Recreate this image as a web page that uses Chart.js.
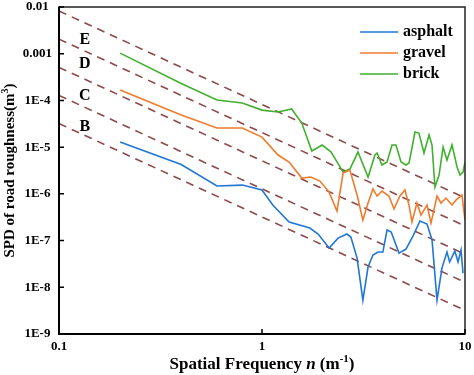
<!DOCTYPE html>
<html>
<head>
<meta charset="utf-8">
<script src="https://cdn.jsdelivr.net/npm/chart.js@4.4.1/dist/chart.umd.min.js"></script>
<style>
  html, body { margin: 0; padding: 0; background: #fff; }
</style>
</head>
<body>
<canvas id="psdChart" width="474" height="375"></canvas>
<script>
// spatial frequency (1/m) and PSD (m^3)
const asphaltFreq = [0.2, 0.4, 0.6, 0.8, 1.0, 1.13, 1.36, 1.72, 1.89, 2.14, 2.37, 2.62, 2.74, 2.94, 3.14, 3.33, 3.52, 3.73, 3.94, 4.13, 4.33, 4.73, 5.12, 5.54, 6.0, 6.5, 6.88, 7.28, 7.7, 8.15, 8.4, 8.91, 9.24, 9.56, 9.78];
const asphaltPsd = [1.29e-5, 4.24e-6, 1.47e-6, 1.54e-6, 1.21e-6, 5.75e-7, 2.49e-7, 1.85e-7, 1.38e-7, 6.9e-8, 1.13e-7, 1.38e-7, 1.19e-7, 4.22e-8, 5.3e-9, 2.71e-8, 4.9e-8, 5.68e-8, 5.68e-8, 1.68e-7, 1.52e-7, 5.4e-8, 6.58e-8, 1.25e-7, 2.62e-7, 2.26e-7, 1.03e-7, 5.3e-9, 2.58e-8, 5.68e-8, 3.47e-8, 5.96e-8, 3.47e-8, 6.27e-8, 2.0e-8];

const gravelFreq = [0.2, 0.4, 0.6, 0.8, 1.0, 1.2, 1.36, 1.57, 1.74, 1.93, 2.14, 2.34, 2.51, 2.71, 2.94, 3.14, 3.33, 3.52, 3.69, 3.9, 4.22, 4.47, 4.78, 5.06, 5.3, 5.48, 5.8, 6.07, 6.5, 6.8, 7.28, 7.62, 8.06, 8.63, 9.03, 9.66, 10];
const gravelPsd = [1.67e-4, 4.86e-5, 2.57e-5, 2.57e-5, 1.64e-5, 6.78e-6, 4.8e-6, 2.18e-6, 2.29e-6, 1.88e-6, 1.09e-6, 4.29e-7, 2.79e-6, 3.23e-6, 9.42e-7, 2.75e-7, 6.35e-7, 1.27e-6, 8.98e-7, 1.15e-6, 8.98e-7, 4.73e-7, 8.98e-7, 1.21e-6, 5.75e-7, 2.49e-7, 6.35e-7, 3.52e-7, 5.75e-7, 2.37e-7, 8.98e-7, 6.35e-7, 8.13e-7, 5.75e-7, 7.36e-7, 9.42e-7, 2.75e-7];

const brickFreq = [0.2, 0.4, 0.6, 0.8, 1.0, 1.2, 1.4, 1.57, 1.76, 1.98, 2.19, 2.51, 2.71, 2.97, 3.33, 3.6, 3.69, 3.9, 4.13, 4.37, 4.57, 4.84, 5.12, 5.3, 5.67, 5.93, 6.28, 6.65, 6.88, 7.11, 7.45, 7.8, 8.15, 8.63, 9.14, 9.45, 9.78, 10];
const brickPsd = [1.03e-3, 2.3e-4, 1.02e-4, 8.8e-5, 6.2e-5, 5.65e-5, 6.55e-5, 3.28e-5, 8.26e-6, 1.11e-5, 7.85e-6, 2.93e-6, 3.4e-6, 7.85e-6, 2.29e-6, 6.78e-6, 7.48e-6, 4.14e-6, 4.8e-6, 1.11e-5, 1.11e-5, 4.8e-6, 4.14e-6, 4.57e-6, 2.1e-5, 2.0e-5, 7.48e-6, 1.82e-5, 1.11e-5, 1.4e-6, 2.53e-6, 1.0e-5, 5.3e-6, 1.11e-5, 3.75e-6, 2.53e-6, 2.93e-6, 4.8e-6];

// road class boundary lines (dashed), value at n = 0.1 and n = 10
const classFreq = [0.1, 10];
const classStartPsd = [8.2e-3, 2.05e-3, 5.1e-4, 1.28e-4, 3.2e-5];
const classEndPsd = [8.2e-7, 2.05e-7, 5.1e-8, 1.28e-8, 3.2e-9];

// class letters and where they sit
const classLabels = ["E", "D", "C", "B"];
const classLabelFreq = [0.134, 0.134, 0.134, 0.134];
const classLabelPsd = [1.96e-3, 6.0e-4, 1.24e-4, 2.69e-5];

const xTickValues = [0.1, 1, 10];
const xTickLabels = ["0.1", "1", "10"];
const yTickValues = [1e-9, 1e-8, 1e-7, 1e-6, 1e-5, 1e-4, 1e-3, 1e-2];
const yTickLabels = ["1E-9", "1E-8", "1E-7", "1E-6", "1E-5", "1E-4", "0.001", "0.01"];

const seriesNames = ["asphalt", "gravel", "brick"];
const seriesColors = ["#2177d4", "#f07b2c", "#41b02f"];

const SERIF = "'Liberation Serif', 'Times New Roman', serif";

const pts = (xs, ys) => xs.map((v, i) => ({ x: v, y: ys[i] }));

const datasets = [
  { label: "asphalt", data: pts(asphaltFreq, asphaltPsd), borderColor: seriesColors[0] },
  { label: "gravel", data: pts(gravelFreq, gravelPsd), borderColor: seriesColors[1] },
  { label: "brick", data: pts(brickFreq, brickPsd), borderColor: seriesColors[2] },
].map((d) => ({ ...d, borderWidth: 1.6, pointRadius: 0, tension: 0, fill: false }));

classStartPsd.forEach((v, i) => {
  datasets.push({
    label: "class" + i,
    data: pts(classFreq, [v, classEndPsd[i]]),
    borderColor: "#8e4a4a",
    borderWidth: 1.6,
    borderDash: [8, 6],
    pointRadius: 0,
    fill: false,
  });
});

function drawRich(ctx, parts, x, y) {
  // parts: [text, font, dy]; x is center
  let total = 0;
  parts.forEach((p) => { ctx.font = p[1]; total += ctx.measureText(p[0]).width; });
  let cx = x - total / 2;
  parts.forEach((p) => {
    ctx.font = p[1];
    ctx.fillText(p[0], cx, y + (p[2] || 0));
    cx += ctx.measureText(p[0]).width;
  });
}

const overlay = {
  id: "overlay",
  afterDraw(chart) {
    const { ctx, chartArea: a, scales } = chart;
    const x = scales.x, y = scales.y;
    ctx.save();

    // frame
    ctx.strokeStyle = "#222";
    ctx.lineWidth = 1.5;
    ctx.strokeRect(a.left, a.top, a.right - a.left, a.bottom - a.top);
    ctx.strokeStyle = "#000";
    ctx.lineWidth = 2;
    ctx.beginPath();
    ctx.moveTo(a.left, a.top);
    ctx.lineTo(a.left, a.bottom);
    ctx.lineTo(a.right, a.bottom);
    ctx.stroke();

    // inward ticks
    ctx.lineWidth = 1.5;
    ctx.beginPath();
    yTickValues.forEach((v) => {
      const py = y.getPixelForValue(v);
      ctx.moveTo(a.left, py);
      ctx.lineTo(a.left + 5, py);
    });
    xTickValues.forEach((v) => {
      const px = x.getPixelForValue(v);
      ctx.moveTo(px, a.bottom);
      ctx.lineTo(px, a.bottom - 5);
    });
    ctx.stroke();

    // class letters
    ctx.fillStyle = "#000";
    ctx.font = "bold 16px " + SERIF;
    ctx.textAlign = "center";
    ctx.textBaseline = "middle";
    classLabels.forEach((t, i) => {
      ctx.fillText(t, x.getPixelForValue(classLabelFreq[i]), y.getPixelForValue(classLabelPsd[i]));
    });

    // legend
    ctx.textAlign = "left";
    ctx.font = "bold 16px " + SERIF;
    seriesNames.forEach((n, i) => {
      const ly = a.top + 25 + i * 21;
      ctx.strokeStyle = seriesColors[i];
      ctx.lineWidth = 1.6;
      ctx.beginPath();
      ctx.moveTo(a.right - 105, ly);
      ctx.lineTo(a.right - 67, ly);
      ctx.stroke();
      ctx.fillText(n, a.right - 62, ly);
    });

    // axis titles
    ctx.textAlign = "left";
    ctx.textBaseline = "middle";
    const big = "bold 17px " + SERIF;
    const ital = "italic bold 17px " + SERIF;
    const sup = "bold 11px " + SERIF;
    drawRich(ctx, [["Spatial Frequency ", big], ["n", ital], [" (m", big], ["-1", sup, -6], [")", big]],
      (a.left + a.right) / 2, 365);

    ctx.translate(10, (a.top + a.bottom) / 2);
    ctx.rotate(-Math.PI / 2);
    const ybig = "bold 15px " + SERIF;
    drawRich(ctx, [["SPD of road roughness(m", ybig], ["3", "bold 10px " + SERIF, -5], [")", ybig]], 0, 0);

    ctx.restore();
  },
};

new Chart(document.getElementById("psdChart"), {
  type: "line",
  data: { datasets: datasets },
  options: {
    responsive: false,
    animation: false,
    devicePixelRatio: 1,
    layout: { padding: { top: 7, right: 9, left: 0, bottom: 0 } },
    plugins: { legend: { display: false }, tooltip: { enabled: false } },
    scales: {
      x: {
        type: "logarithmic",
        min: 0.1,
        max: 10,
        grid: { display: false, drawTicks: false },
        border: { display: false },
        afterBuildTicks: (s) => { s.ticks = xTickValues.map((v) => ({ value: v })); },
        afterFit: (s) => {
          s.height = 41;
          s.paddingLeft = 0;
          s.paddingRight = 0;
        },
        ticks: {
          callback: (v, i) => xTickLabels[i],
          color: "#000",
          font: { family: SERIF, size: 13, weight: "bold" },
          padding: 5,
          maxRotation: 0,
          autoSkip: false,
        },
      },
      y: {
        type: "logarithmic",
        min: 1e-9,
        max: 1e-2,
        grid: { display: false, drawTicks: false },
        border: { display: false },
        afterBuildTicks: (s) => { s.ticks = yTickValues.map((v) => ({ value: v })); },
        afterFit: (s) => {
          s.width = 59;
          s.paddingTop = 0;
          s.paddingBottom = 0;
        },
        ticks: {
          callback: (v, i) => yTickLabels[i],
          color: "#000",
          font: { family: SERIF, size: 13, weight: "bold" },
          padding: 7,
          crossAlign: "center",
          autoSkip: false,
        },
      },
    },
  },
  plugins: [overlay],
});
</script>
</body>
</html>
